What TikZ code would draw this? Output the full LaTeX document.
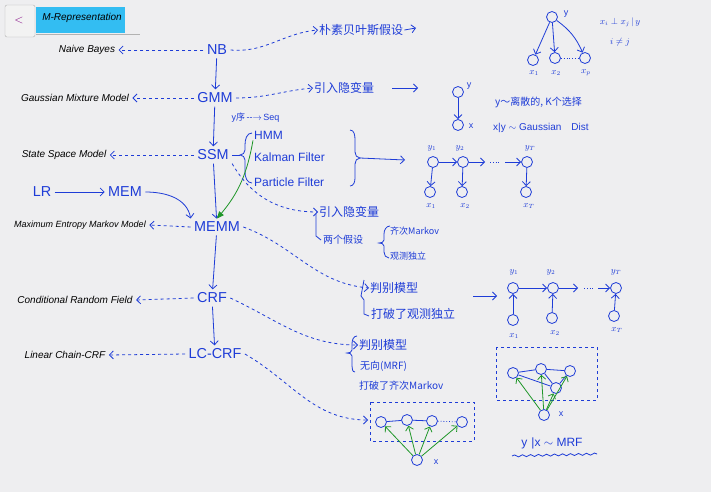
\documentclass[tikz,border=0pt]{standalone}
\usepackage{fontspec}
\setmainfont{Liberation Sans}
\newfontfamily\cjk{Noto Sans CJK SC}
\usetikzlibrary{arrows.meta,decorations.pathmorphing}
\definecolor{ink}{RGB}{30,60,215}
\definecolor{grn}{RGB}{30,150,40}
\definecolor{bg}{RGB}{238,238,240}
\tikzset{
 b/.style={text=ink,font=\Large},
 lab/.style={text=black,font=\itshape\normalsize},
 ch/.style={text=ink,font=\cjk\large,anchor=west,inner sep=1pt},
 chs/.style={text=ink,font=\cjk\normalsize,anchor=west,inner sep=1pt},
 sm/.style={text=ink,font=\small},
 it/.style={text=ink,font=\large,anchor=west,inner sep=1pt},
 ar/.style={draw=ink,thick,-{Straight Barb[length=4pt]}},
 da/.style={draw=ink,thick,dashed,-{Straight Barb[length=4pt]}},
 ga/.style={draw=grn,thick,-{Straight Barb[length=4pt]}},
 c/.style={circle,draw=ink,thick,minimum size=11pt,inner sep=0pt},
 bx/.style={draw=ink,thick,dashed}
}
\begin{document}
\begin{tikzpicture}[x=1pt,y=-1pt]
\fill[bg] (0,0) rectangle (711,492);
\useasboundingbox (0,0) rectangle (711,492);
% header
\draw[gray!60,fill=gray!10,rounded corners=2pt] (5,5) rectangle (35,37);
\node[text=violet,font=\large] (back) at (19,21) {$<$};
\fill[cyan!80] (36,7) rectangle (125,33);
\node[font=\itshape] (title) at (82,18) {M-Representation};
\draw[gray!60] (36,34) -- (140,34);
% left labels
\node[lab] (lnb) at (87,50) {Naive Bayes};
\node[lab] (lgmm) at (75,98) {Gaussian Mixture Model};
\node[lab] (lssm) at (64,155) {State Space Model};
\node[lab,font=\itshape\small] (lmemm) at (80,225) {Maximum Entropy Markov Model};
\node[lab] (lcrf) at (75,300) {Conditional Random Field};
\node[lab] (llc) at (65,355) {Linear Chain-CRF};
% main column
\node[b] (nb) at (217,50) {NB};
\node[b] (gmm) at (215,98) {GMM};
\node[b] (ssm) at (213,155) {SSM};
\node[b] (lr) at (42,192) {LR};
\node[b] (mem) at (125,192) {MEM};
\node[b] (memm) at (217,227) {MEMM};
\node[b] (crf) at (212,298) {CRF};
\node[b] (lc) at (215,354) {LC-CRF};
\foreach \a/\bb in {nb/lnb,gmm/lgmm,ssm/lssm,memm/lmemm,crf/lcrf,lc/llc}
  \draw[da] (\a.west) -- (\bb.east);
\draw[ar] (nb) -- (gmm);
\draw[ar] (gmm) -- (ssm);
\draw[ar] (ssm) -- (memm);
\draw[ar] (memm) -- (crf);
\draw[ar] (crf) -- (lc);
\draw[ar] (lr) -- (mem);
\draw[ar] (mem.east) to[out=0,in=100] (memm.north west);
\node[sm,anchor=west] (seq) at (228,118) {y{\cjk 序}\,-{}-{}$\rightarrow$\,Seq};
% SSM brace
\node[it] (hmm) at (253,135) {HMM};
\node[it] (kf) at (253,157) {Kalman Filter};
\node[it] (pf) at (253,182) {Particle Filter};
\draw[ink,thick] (ssm.east) -- (240,155);
\draw[ink,thick] (252,133) to[out=180,in=90] (245,145) -- (245,150) to[out=-90,in=0] (240,155) to[out=0,in=90] (245,160) -- (245,172) to[out=-90,in=180] (252,183);
\draw[ink,thick] (350,130) to[out=0,in=90] (355,140) -- (355,152) to[out=-90,in=180] (360,158) to[out=180,in=90] (355,164) -- (355,178) to[out=-90,in=0] (350,186);
\coordinate (br) at (360,158);
\draw[ga,-{Triangle[length=7pt,width=6pt]}] (hmm.south west) to[out=-100,in=50] (memm.north);
% NB row
\node[ch] (pusu) at (318,30) {朴素贝叶斯假设};
\draw[da] (nb.east) to[out=-5,in=185] (pusu.west);
\coordinate (pe) at (416,28);
\draw[ar] (pusu.east) -- (pe);
\node[c] (ny) at (552,17) {};
\node[sm] (nyl) at (566,14) {y};
\node[c] (nx1) at (533,60) {};
\node[c] (nx2) at (555,58) {};
\node[c] (nxp) at (585,58) {};
\node[sm] (nx1l) at (534,73) {$x_1$};
\node[sm] (nx2l) at (556,73) {$x_2$};
\node[sm] (nxpl) at (586,73) {$x_p$};
\draw[ar] (ny) -- (nx1);
\draw[ar] (ny) -- (nx2);
\draw[ar] (ny) to[bend left=15] (nxp);
\draw[ink,thick,dotted] (nx2) -- (nxp);
\node[sm] (indep) at (620,22) {$x_i\perp x_j\,|\,y$};
\node[sm] (neq) at (620,42) {$i\neq j$};
% GMM row
\node[ch] (yin1) at (313,88) {引入隐变量};
\draw[da] (gmm.east) to[out=0,in=185] (yin1.west);
\coordinate (ge) at (418,88);
\draw[ar] (392,88) -- (ge);
\node[c] (gy) at (458,92) {};
\node[sm] (gyl) at (469,86) {y};
\node[c] (gx) at (458,125) {};
\node[sm] (gxl) at (471,126) {x};
\draw[ar] (gy) -- (gx);
\node[chs] (disc) at (494,102) {y～离散的, K个选择};
\node[it,font=\normalsize] (gauss) at (492,128) {x|y $\sim$ Gaussian\quad Dist};
% HMM chain
\coordinate (he) at (405,160);
\draw[ar] (br) -- (he);
\node[c] (hy1) at (433,162) {};
\node[c] (hy2) at (463,162) {};
\node[c] (hyT) at (527,162) {};
\node[c] (hx1) at (430,192) {};
\node[c] (hx2) at (462,192) {};
\node[c] (hxT) at (526,192) {};
\node[sm] at (432,148) {$y_1$};
\node[sm] at (460,148) {$y_2$};
\node[sm] at (530,148) {$y_T$};
\node[sm] at (431,206) {$x_1$};
\node[sm] at (465,206) {$x_2$};
\node[sm] at (529,206) {$x_T$};
\draw[ar] (hy1) -- (hy2);
\draw[ar] (hy2) -- (485,162);
\draw[ink,thick,dotted] (490,162) -- (500,162);
\draw[ar] (505,162) -- (hyT);
\draw[ar] (hy1) -- (hx1);
\draw[ar] (hy2) -- (hx2);
\draw[ar] (hyT) -- (hxT);
% SSM -> assumptions
\node[ch] (yin2) at (318,212) {引入隐变量};
\draw[da] (ssm.south east) to[out=-60,in=180] (yin2.west);
\node[chs] (liang) at (322,240) {两个假设};
\draw[ink,thick] (316,214) -- (316,236) -- (321,240);
\node[chs,font=\cjk\small] (qc) at (389,231) {齐次Markov};
\node[chs,font=\cjk\small] (gc) at (389,256) {观测独立};
\draw[ink,thick] (390,226) to[out=180,in=90] (384,234) -- (384,240) to[out=-90,in=0] (379,243) to[out=0,in=90] (384,246) -- (384,252) to[out=-90,in=180] (389,258);
% MEMM -> discriminative
\node[ch] (pb1) at (369,288) {判别模型};
\node[ch] (pb2) at (370,314) {打破了观测独立};
\draw[da] (memm.east) to[out=-20,in=175] (pb1.west);
\draw[ink,thick] (364,280) -- (361,296) -- (364,300) -- (364,314) -- (369,316);
\coordinate (ms) at (473,296);
\coordinate (me) at (497,296);
\draw[ar] (ms) -- (me);
\node[c] (my1) at (513,288) {};
\node[c] (my2) at (553,288) {};
\node[c] (myT) at (616,288) {};
\node[c] (mx1) at (513,320) {};
\node[c] (mx2) at (552,318) {};
\node[c] (mxT) at (614,316) {};
\node[sm] at (514,272) {$y_1$};
\node[sm] at (551,272) {$y_2$};
\node[sm] at (616,272) {$y_T$};
\node[sm] at (514,336) {$x_1$};
\node[sm] at (555,333) {$x_2$};
\node[sm] at (617,330) {$x_T$};
\draw[ar] (my1) -- (my2);
\draw[ar] (my2) -- (578,288);
\draw[ink,thick,dotted] (584,288) -- (594,288);
\draw[ar] (598,288) -- (myT);
\draw[ar] (mx1) -- (my1);
\draw[ar] (mx2) -- (my2);
\draw[ar] (mxT) -- (myT);
% CRF -> MRF
\node[ch] (pb3) at (358,345) {判别模型};
\node[chs] (wx) at (359,366) {无向(MRF)};
\node[chs] (pq) at (358,386) {打破了齐次Markov};
\draw[da] (crf.east) to[out=-25,in=180] (pb3.west);
\draw[ink,thick] (357,336) to[out=180,in=90] (352,344) -- (352,350) to[out=-90,in=0] (347,353) to[out=0,in=90] (352,356) -- (352,366) to[out=-90,in=180] (355,372);
% LC-CRF box
\draw[bx] (370,402) rectangle (474,441);
\node[c] (l1) at (381,422) {};
\node[c] (l2) at (407,420) {};
\node[c] (l3) at (432,421) {};
\node[c] (l4) at (462,422) {};
\node[c] (lx) at (417,460) {};
\node[sm] (lxl) at (436,462) {x};
\draw[ink,thick] (l1) -- (l2) -- (l3);
\draw[ink,thick,dotted] (l3) -- (l4);
\coordinate (lbox) at (368,420);
\draw[da] (lc.east) to[out=-30,in=180] (lbox);
\foreach \n in {l1,l2,l3,l4} \draw[ga] (lx) -- (\n);
% MRF box
\draw[bx] (496,347) rectangle (597,400);
\node[c] (r1) at (513,373) {};
\node[c] (r2) at (541,369) {};
\node[c] (r3) at (570,371) {};
\node[c] (r4) at (556,388) {};
\node[c] (rx) at (544,415) {};
\node[sm] (rxl) at (561,414) {x};
\draw[ink,thick] (r1) -- (r2) -- (r3) -- (r4) -- (r1);
\draw[ink,thick] (r2) -- (r4);
\foreach \n in {r1,r2,r3,r4} \draw[ga] (rx) -- (\n);
\node[text=ink,font=\large] (mrf) at (552,443) {y\,\,|x $\sim$ MRF};
\draw[ink,thick,decorate,decoration={snake,amplitude=1pt,segment length=8pt}] (512,456) -- (597,454);
\end{tikzpicture}
\end{document}
